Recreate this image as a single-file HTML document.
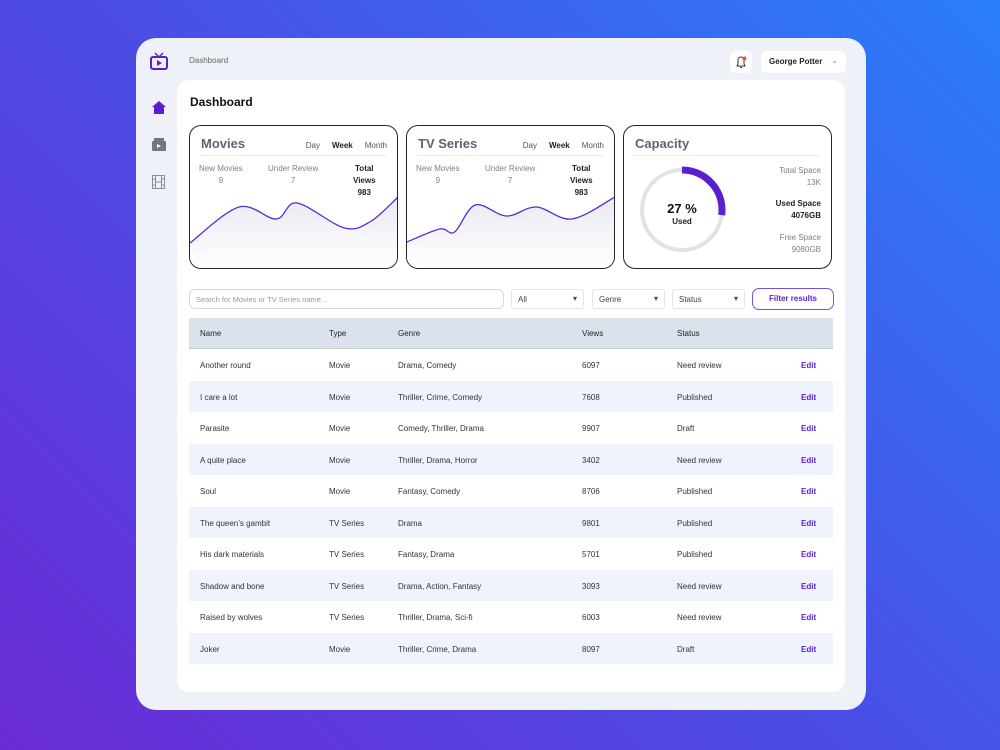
<!DOCTYPE html>
<html><head><meta charset="utf-8">
<style>
*{box-sizing:border-box;margin:0;padding:0}
body{width:1000px;height:750px;overflow:hidden;font-family:"Liberation Sans",sans-serif;background:linear-gradient(225deg,#2a7ef9 0%,#4a4ee6 50%,#6a2bd4 100%);position:relative}
.abs{position:absolute}
#main{left:136px;top:38px;width:730px;height:672px;background:#eef1f8;border-radius:20px}
#panel{left:177px;top:80px;width:668px;height:612px;background:#fff;border-radius:12px}
.card{border:1.5px solid #23232b;border-radius:12px;background:#fff;width:209px;height:144px;top:125px;overflow:hidden}
.ct{font-size:13px;color:#5d6475;position:absolute;left:11px;top:10px;font-weight:bold}
.hr{position:absolute;left:10px;right:10px;top:29px;height:1px;background:#eceef2}
.tabs{position:absolute;right:10px;top:15px;font-size:8px;color:#555}
.tabs span{margin-left:12px}
.st{position:absolute;font-size:8px;color:#7a8090;text-align:center;line-height:12px}
.row{left:189px;width:644px;height:31.5px;font-size:8px;color:#333}
.row span{position:absolute;top:12px}
.sel{top:289px;height:20px;border:1px solid #e3e5ea;border-radius:3px;font-size:8px;color:#444;padding:5px 6px}
.sel:after{content:"▾";position:absolute;right:6px;top:4px;font-size:8px}
</style></head><body>
<div id="main" class="abs"></div>
<svg class="abs" style="left:150px;top:52px" width="18" height="18"><rect x="1" y="5" width="16" height="12" rx="2" fill="none" stroke="#5b1fd0" stroke-width="2"/><path d="M5 1 L9 5 L13 1" stroke="#5b1fd0" stroke-width="1.5" fill="none"/><path d="M7 8 L12 11 L7 14Z" fill="#5b1fd0"/></svg>
<div class="abs" style="left:189px;top:56px;font-size:8px;color:#666">Dashboard</div>
<svg class="abs" style="left:152px;top:101px" width="14" height="13"><path d="M7 0 L14 6 L12 6 L12 13 L2 13 L2 6 L0 6Z" fill="#5b1fd0"/></svg>
<svg class="abs" style="left:152px;top:138px" width="14" height="13"><rect x="0" y="3" width="14" height="10" rx="1" fill="#707684"/><rect x="2" y="0" width="10" height="3" fill="#707684"/><path d="M5 6 L9 8 L5 10Z" fill="#fff"/></svg>
<svg class="abs" style="left:152px;top:175px" width="13" height="14"><rect x="0.5" y="0.5" width="12" height="13" fill="none" stroke="#8a8f9c"/><path d="M3.5 0V14M9.5 0V14M3.5 7H9.5M0 4H3.5M0 10H3.5M9.5 4H13M9.5 10H13" stroke="#8a8f9c"/></svg>
<div class="abs" style="left:730px;top:51px;width:22px;height:22px;background:#fff;border-radius:6px"><svg width="22" height="22"><path d="M7 15 L15 15 L14 13 L14 9 A3 3 0 0 0 8 9 L8 13Z" fill="none" stroke="#333" stroke-width="1"/><path d="M10 16.5 h2" stroke="#333"/><circle cx="14.5" cy="7.5" r="2" fill="#e53"/></svg></div>
<div class="abs" style="left:761px;top:51px;width:85px;height:22px;background:#fff;border-radius:6px;font-size:8px;font-weight:bold;color:#222;padding:6px 8px">George Potter <span style="position:absolute;right:8px;top:5px;color:#888;font-weight:normal">⌄</span></div>
<div id="panel" class="abs"></div>
<div class="abs" style="left:190px;top:95px;font-size:12px;font-weight:bold;color:#111">Dashboard</div>

<div class="abs card" style="left:189px">
<svg id="mv" class="abs" style="left:0;top:0" width="209" height="144"></svg>
<div class="ct">Movies</div><div class="hr"></div>
<div class="tabs"><span>Day</span><span style="font-weight:bold;color:#222">Week</span><span>Month</span></div>
<div class="st" style="left:9px;top:37px">New Movies<br>9</div>
<div class="st" style="left:78px;top:37px">Under Review<br>7</div>
<div class="st" style="left:163px;top:37px;color:#222;font-weight:bold">Total<br>Views<br>983</div>
</div>
<div class="abs card" style="left:406px">
<svg id="tv" class="abs" style="left:0;top:0" width="209" height="144"></svg>
<div class="ct">TV Series</div><div class="hr"></div>
<div class="tabs"><span>Day</span><span style="font-weight:bold;color:#222">Week</span><span>Month</span></div>
<div class="st" style="left:9px;top:37px">New Movies<br>9</div>
<div class="st" style="left:78px;top:37px">Under Review<br>7</div>
<div class="st" style="left:163px;top:37px;color:#222;font-weight:bold">Total<br>Views<br>983</div>
</div>
<div class="abs card" style="left:623px">
<div class="ct">Capacity</div><div class="hr"></div>
<svg id="donut" class="abs" style="left:0;top:0" width="209" height="144"></svg>
<div class="abs" style="left:15px;top:75px;width:86px;text-align:center;font-size:13px;font-weight:bold;color:#111">27 %</div>
<div class="abs" style="left:15px;top:91px;width:86px;text-align:center;font-size:8px;font-weight:bold;color:#222">Used</div>
<div class="st" style="right:10px;top:39px;text-align:right">Total Space<br>13K</div>
<div class="st" style="right:10px;top:72px;text-align:right;color:#222;font-weight:bold">Used Space<br>4076GB</div>
<div class="st" style="right:10px;top:106px;text-align:right">Free Space<br>9080GB</div>
</div>

<div class="abs" style="left:189px;top:289px;width:315px;height:20px;border:1px solid #d5d8de;border-radius:6px;font-size:7.5px;color:#999;padding:5px 6px">Search for Movies or TV Series name...</div>
<div class="abs sel" style="left:511px;width:73px">All</div>
<div class="abs sel" style="left:592px;width:73px">Genre</div>
<div class="abs sel" style="left:672px;width:73px">Status</div>
<div class="abs" style="left:752px;top:288px;width:82px;height:22px;border:1px solid #7a52d8;border-radius:7px;font-size:8px;font-weight:bold;color:#5b1fd0;text-align:center;line-height:20px">Filter results</div>

<div class="abs" style="left:189px;top:318px;width:644px;height:31px;background:#dce2eb;border-bottom:1px solid #c5ccd8;font-size:8px;color:#222">
<span class="abs" style="left:11px;top:11px">Name</span><span class="abs" style="left:140px;top:11px">Type</span><span class="abs" style="left:209px;top:11px">Genre</span><span class="abs" style="left:393px;top:11px">Views</span><span class="abs" style="left:488px;top:11px">Status</span></div>
<div id="rows"></div>

<script>
const NS="http://www.w3.org/2000/svg";
// Movies chart data
const movieX=[0,1.65,2.9,3.6,5.2,6.1,7];
const movieV=[18,54,42,58,33,40,64];
// TV series chart data
const tvX=[0,1.1,1.6,2.3,3.35,4.35,5.55,7];
const tvV=[19,32,29,56,45,54,42,64];
function sx(x){return x/7*208;}
function sy(v){return 135-v;}
function path(xs,vs){
  const p=xs.map((x,i)=>[sx(x),sy(vs[i])]);
  let d="M"+p[0][0]+","+p[0][1];
  for(let i=0;i<p.length-1;i++){
    const p0=p[i-1]||p[i],p1=p[i],p2=p[i+1],p3=p[i+2]||p2;
    const c1=[p1[0]+(p2[0]-p0[0])/6,p1[1]+(p2[1]-p0[1])/6];
    const c2=[p2[0]-(p3[0]-p1[0])/6,p2[1]-(p3[1]-p1[1])/6];
    d+=` C${c1[0]},${c1[1]} ${c2[0]},${c2[1]} ${p2[0]},${p2[1]}`;
  }
  return d;
}
function draw(id,xs,vs,nm){
  const svg=document.getElementById(id);
  const d=path(xs,vs);
  svg.innerHTML='<defs><linearGradient id="g'+id+'" x1="0" y1="0" x2="0" y2="1"><stop offset="0" stop-color="#e9ebf3"/><stop offset="1" stop-color="#fff"/></linearGradient></defs>';
  const a=document.createElementNS(NS,"path");
  a.setAttribute("d",d+" L208,144 L0,144Z");a.setAttribute("fill","url(#g"+id+")");
  
  
  svg.appendChild(a);
  const l=document.createElementNS(NS,"path");
  l.setAttribute("d",d);l.setAttribute("fill","none");l.setAttribute("stroke","#5b2ad0");l.setAttribute("stroke-width","1.3");
  
  
  svg.appendChild(l);
}
draw("mv",movieX,movieV,"movies-line");
draw("tv",tvX,tvV,"tv-series-line");
// Capacity data
const usedPct=[27];
(function(){
  const svg=document.getElementById("donut");
  const cx=58,cy=84,r=40,C=2*Math.PI*r;
  const bg=document.createElementNS(NS,"circle");
  bg.setAttribute("cx",cx);bg.setAttribute("cy",cy);bg.setAttribute("r",r);bg.setAttribute("fill","none");bg.setAttribute("stroke","#dfe2e7");bg.setAttribute("stroke-width","4");
  
  
  svg.appendChild(bg);
  const arc=document.createElementNS(NS,"circle");
  arc.setAttribute("cx",cx);arc.setAttribute("cy",cy);arc.setAttribute("r",r);arc.setAttribute("fill","none");arc.setAttribute("stroke","#5b1fd0");arc.setAttribute("stroke-width","7");
  arc.setAttribute("stroke-dasharray",(C*usedPct[0]/100)+" "+C);
  arc.setAttribute("transform","rotate(-90 "+cx+" "+cy+")");
  
  
  svg.appendChild(arc);
})();
// Table data
const names=["Another round","I care a lot","Parasite","A quite place","Soul","The queen’s gambit","His dark materials","Shadow and bone","Raised by wolves","Joker"];
const types=["Movie","Movie","Movie","Movie","Movie","TV Series","TV Series","TV Series","TV Series","Movie"];
const genres=["Drama, Comedy","Thriller, Crime, Comedy","Comedy, Thriller, Drama","Thriller, Drama, Horror","Fantasy, Comedy","Drama","Fantasy, Drama","Drama, Action, Fantasy","Thriller, Drama, Sci-fi","Thriller, Crime, Drama"];
const views=[6097,7608,9907,3402,8706,9801,5701,3093,6003,8097];
const statuses=["Need review","Published","Draft","Need review","Published","Published","Published","Need review","Need review","Draft"];
const rows=document.getElementById("rows");
names.forEach((n,i)=>{
  const r=document.createElement("div");
  r.className="abs row";
  r.style.top=(349+i*31.5)+"px";
  r.style.background=i%2?"#eef3fc":"#fff";
  
  
  r.innerHTML=`<span style="left:11px">${n}</span><span style="left:140px">${types[i]}</span><span style="left:209px">${genres[i]}</span><span style="left:393px">${views[i]}</span><span style="left:488px">${statuses[i]}</span>`;
  const e=document.createElement("span");
  e.textContent="Edit";
  e.style.cssText="left:612px;font-weight:bold;color:#5b1fd0;cursor:pointer";
  
  
  r.appendChild(e);
  rows.appendChild(r);
});
</script>
</body></html>
